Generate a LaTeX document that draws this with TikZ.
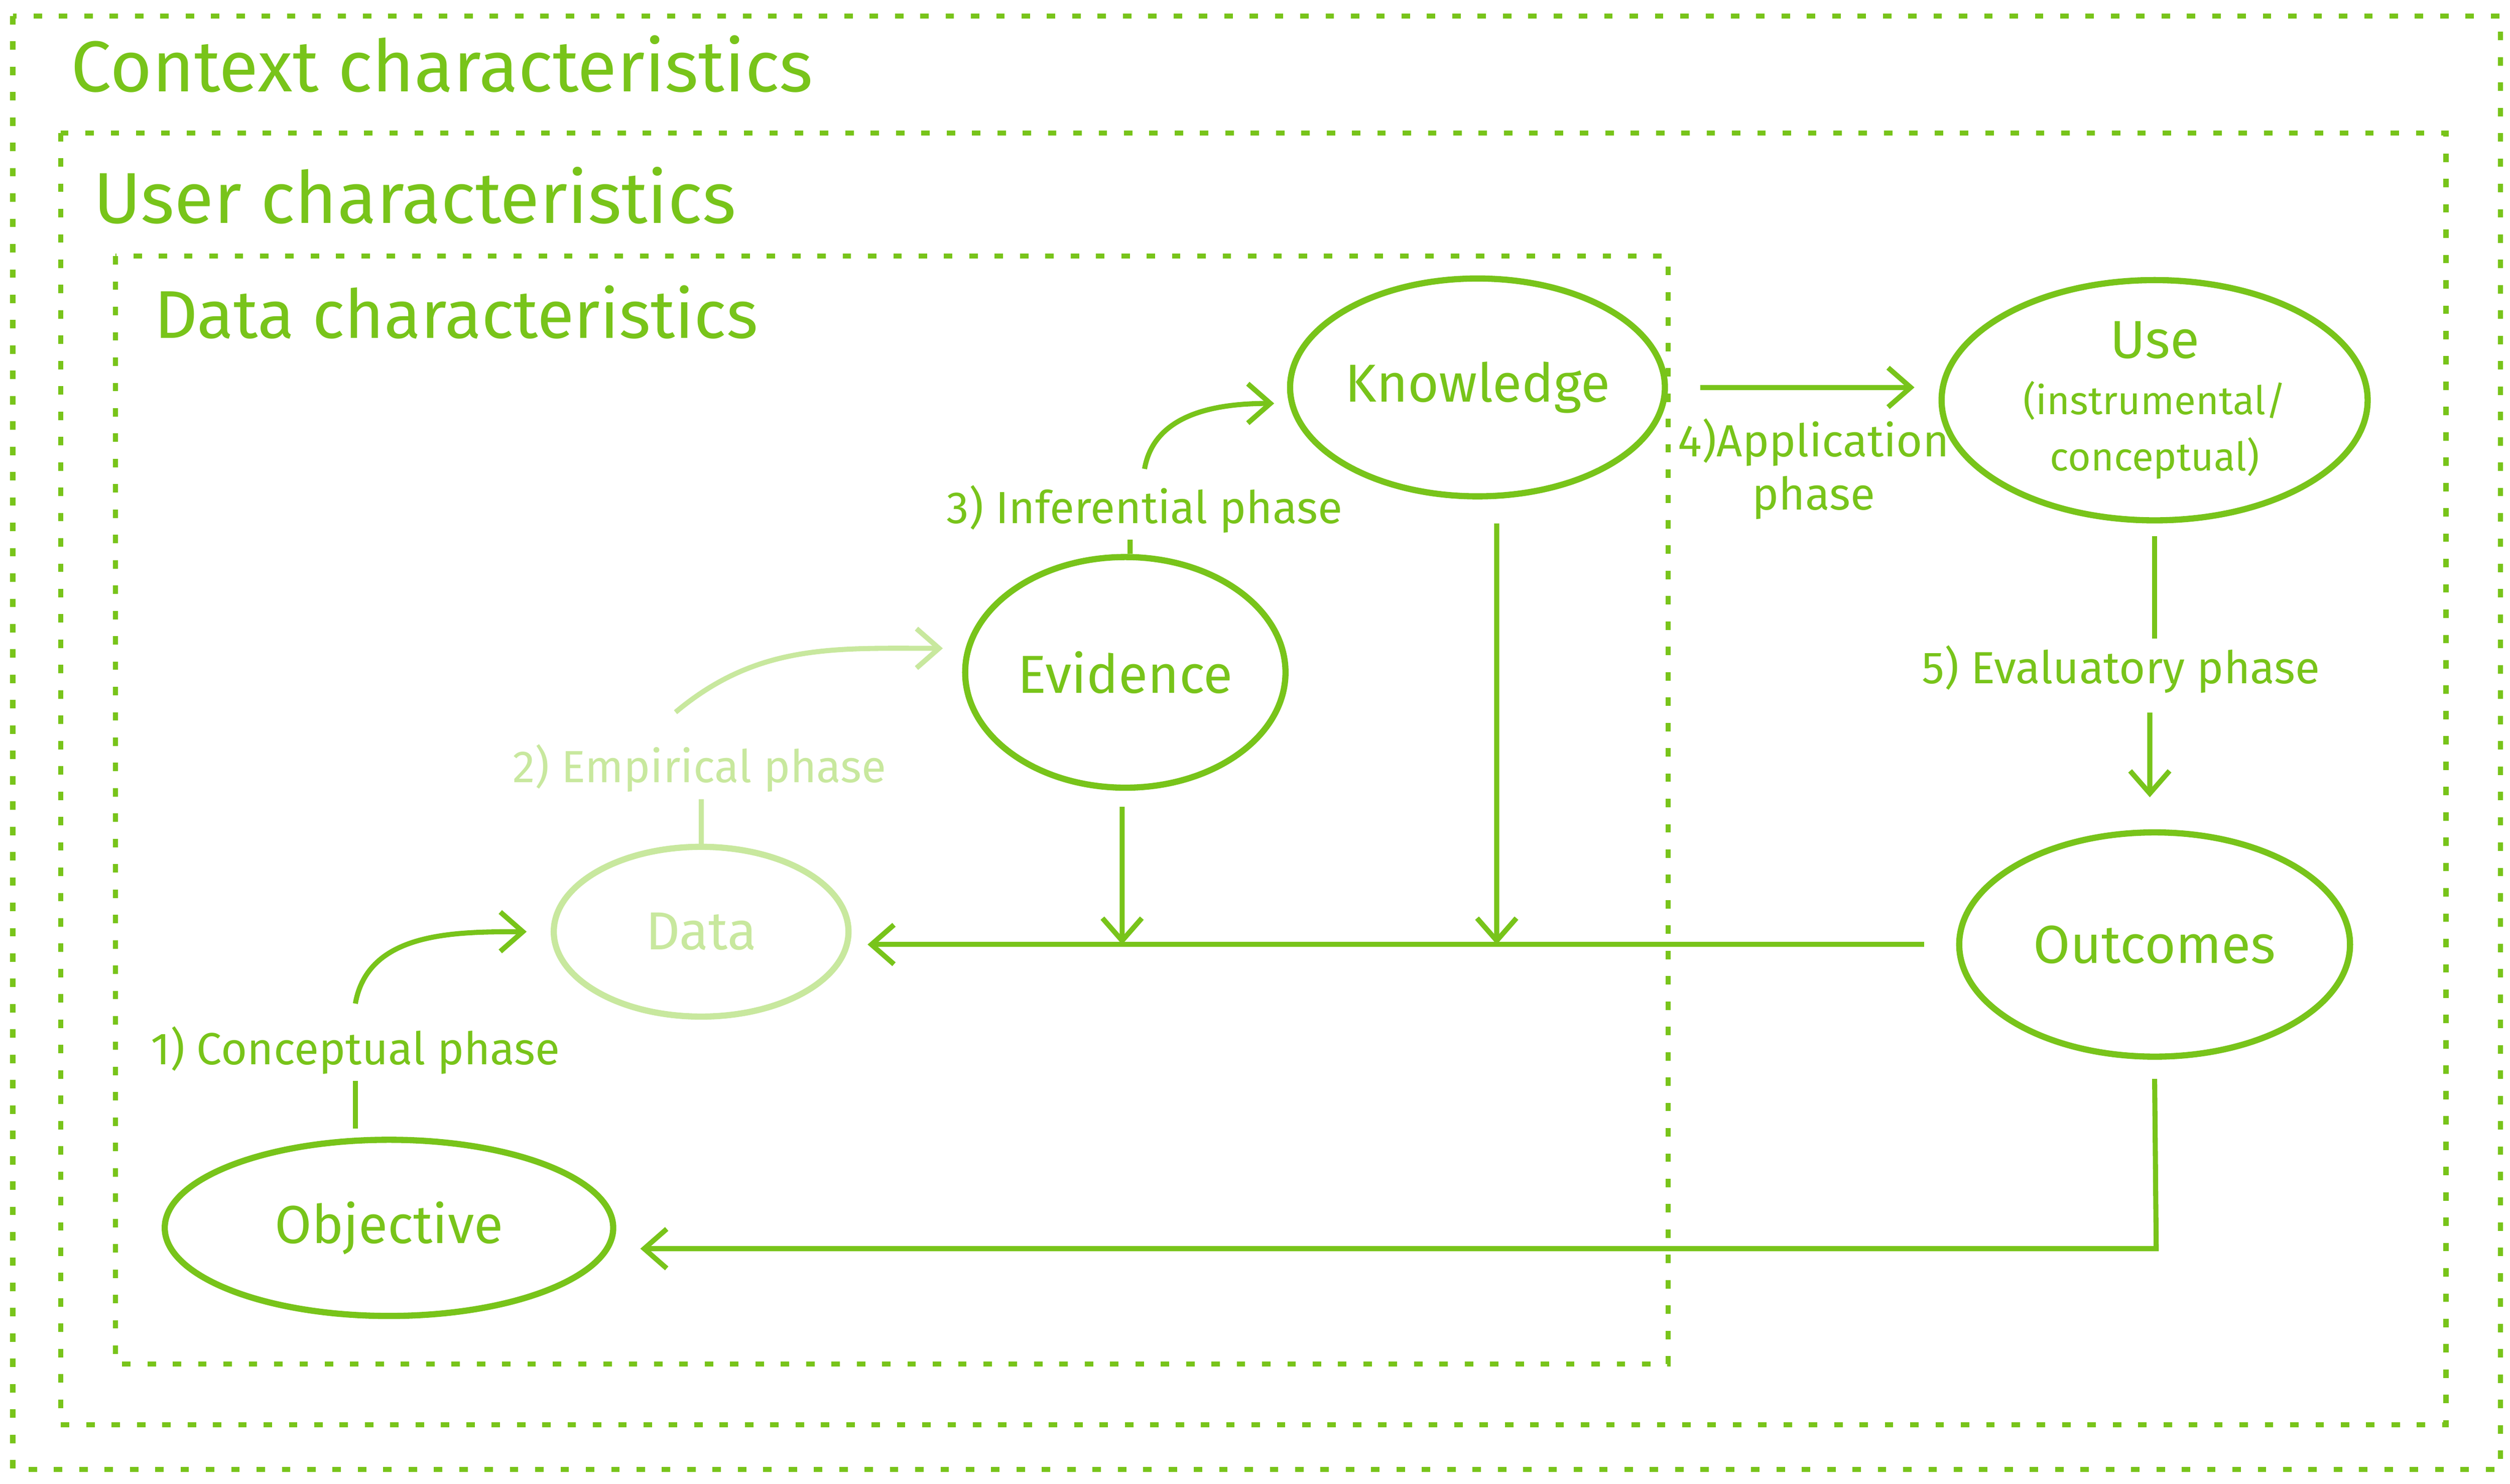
\documentclass[tikz,border=0pt]{standalone}
\usepackage{fontspec}
\setmainfont{Fira Sans}
\usetikzlibrary{arrows.meta,shapes.geometric}
\definecolor{g}{HTML}{78C41A}
\definecolor{lg}{HTML}{C8E89E}
\begin{document}
\begin{tikzpicture}[x=0.01cm,y=-0.01cm,
  frame/.style={draw=g,line width=0.9pt,dash pattern=on 1.5pt off 3pt},
  big/.style={text=g,font=\fontsize{12.8}{15}\selectfont,anchor=west},
  ell/.style={draw=g,ellipse,line width=1.1pt,text=g,font=\fontsize{9.5}{11}\selectfont,inner sep=0pt},
  lab/.style={text=g,font=\fontsize{8}{9.5}\selectfont,inner sep=1pt},
  con/.style={draw=g,line width=0.9pt},
  arr/.style={con,-{Straight Barb[length=4pt,width=7pt]}}]
\useasboundingbox (0,0) rectangle (1568,927);
\draw[frame] (8,10) rectangle (1562,918);
\draw[frame] (38,83) rectangle (1528,890);
\draw[frame] (72,160) rectangle (1042,852);
\node[big] (tc) at (32,40) {Context characteristics};
\node[big] (tu) at (46,122) {User characteristics};
\node[big,font=\fontsize{12}{15}\selectfont] (td) at (84,195) {Data characteristics};

\node[ell,minimum width=2.30cm,minimum height=1.36cm] (know) at (923,242) {Knowledge};
\node[ell,minimum width=2.66cm,minimum height=1.50cm,align=center] (use) at (1346,250) {Use\\[-1pt]{\fontsize{7}{8.5}\selectfont (instrumental/}\\[-1pt]{\fontsize{7}{8.5}\selectfont conceptual)}};
\node[ell,minimum width=2.00cm,minimum height=1.44cm] (evid) at (703,420) {Evidence};
\node[ell,draw=lg,text=lg,minimum width=1.84cm,minimum height=1.06cm] (data) at (438,582) {Data};
\node[ell,minimum width=2.44cm,minimum height=1.40cm] (out) at (1346,590) {Outcomes};
\node[ell,minimum width=2.80cm,minimum height=1.10cm] (obj) at (243,767) {Objective};

\node[lab] (l1) at (222,656) {1) Conceptual phase};
\node[lab,text=lg] (l2) at (437,480) {2) Empirical phase};
\node[lab] (l3) at (715,318) {3) Inferential phase};
\node[lab,align=center] (l4) at (1133,293) {4)Application\\phase};
\node[lab] (l5) at (1325,418) {5) Evaluatory phase};
\coordinate (c1) at (1347,780);

\draw[con] ([yshift=0.05cm]obj.north -| l1.south) -- (l1.south);
\draw[arr] (l1.north) ++(0,-10) to[out=80,in=180] ([xshift=-0.15cm]data.west);
\draw[con,draw=lg] (data.north) -- (l2.south -| data.north);
\draw[arr,draw=lg] (l2.north) ++(-15,-16) to[out=40,in=180] ([xshift=-0.12cm,yshift=0.15cm]evid.west);
\draw[con] (evid.north) ++(3,0) -- ([xshift=0.03cm]l3.south -| evid.north);
\draw[arr] (l3.north) ++(0,-6) to[out=80,in=180] ([xshift=-0.08cm,yshift=-0.1cm]know.west);
\draw[arr] ([xshift=0.2cm]know.east) -- ([xshift=-0.15cm]use.west |- know.east);
\draw[con] (use.south) ++(0,8) -- (l5.north -| use.south);
\draw[arr] (l5.south -| use.south) ++(-3,8) -- ([xshift=-0.03cm,yshift=0.2cm]out.north);
\draw[arr] (out.west) ++(-20,0) -- ([xshift=0.1cm]data.east |- out.west);
\draw[arr] (evid.south) ++(-2,10) -- ([xshift=-0.02cm]evid.south |- out.west);
\draw[arr] (know.south) ++(12,15) -- ([xshift=0.12cm]know.south |- out.west);
\draw[arr] (out.south) ++(0,12) -- (c1) -- ([xshift=0.15cm]obj.east |- c1);
\end{tikzpicture}
\end{document}
